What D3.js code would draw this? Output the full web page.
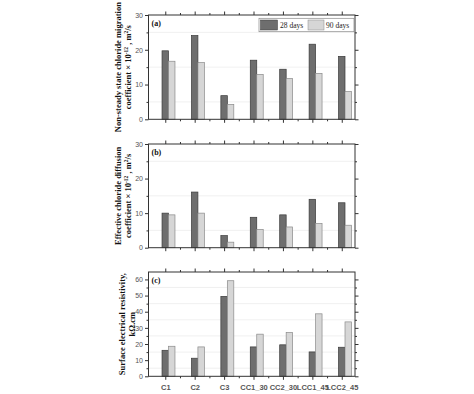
<!DOCTYPE html>
<html>
<head>
<meta charset="utf-8">
<script src="https://cdn.jsdelivr.net/npm/d3@7"></script>
<style>
  body { margin: 0; background: #fff; }
  svg { display: block; }
  .tick text { font-family: "Liberation Sans", Arial, sans-serif; fill: #555; }
  .domain { display: none; }
</style>
</head>
<body>
<svg width="474" height="394"></svg>
<script>
// categories on the x axis
const categories = ["C1", "C2", "C3", "CC1_30", "CC2_30", "LCC1_45", "LCC2_45"];

// (a) non-steady state chloride migration coefficient
const migration28 = [19.7, 24.1, 6.8, 17.0, 14.4, 21.6, 18.1];
const migration90 = [16.7, 16.3, 4.3, 12.9, 11.7, 13.2, 8.0];

// (b) effective chloride diffusion coefficient
const diffusion28 = [10.0, 16.1, 3.5, 8.8, 9.5, 14.0, 13.0];
const diffusion90 = [9.5, 10.0, 1.6, 5.3, 6.0, 7.0, 6.5];

// (c) surface electrical resistivity
const resistivity28 = [16.1, 11.2, 49.5, 18.2, 19.5, 15.1, 18.0];
const resistivity90 = [18.6, 18.2, 59.2, 26.1, 27.1, 38.7, 33.7];

const legendLabels = ["28 days", "90 days"];
const ticksA = [0, 10, 20, 30];
const ticksB = [0, 10, 20, 30];
const ticksC = [0, 10, 20, 30, 40, 50, 60];

const svg = d3.select("svg");
const dark = "#6e6e6e", darkStroke = "#3a3a3a";
const light = "#d6d6d6", lightStroke = "#8a8a8a";
const serif = "'Liberation Serif', 'Times New Roman', serif";

const left = 148.5, right = 355;
const x = d3.scaleLinear().domain([0.43, 7.45]).range([left, right]);
const bw = 0.22;
const majorX = categories.map((c, i) => i + 1);
const minorX = d3.range(1.5, 7.5, 1);

function drawPanel(cfg) {
  const y = d3.scaleLinear().domain([0, cfg.max]).range([cfg.bottom, cfg.top]);
  const g = svg.append("g");

  // faint grid at half steps
  const step = cfg.ticks[1] - cfg.ticks[0];
  const half = d3.range(step / 2, cfg.max, step);
  g.selectAll(".grid").data(half).enter().append("line")
    .attr("x1", left).attr("x2", right)
    .attr("y1", d => y(d)).attr("y2", d => y(d))
    .attr("stroke", "#ececec").attr("stroke-width", 0.8);

  // bars
  g.selectAll(".b28").data(cfg.d28).enter().append("rect")
    .attr("x", (d, i) => x(i + 1 - bw / 2))
    .attr("width", x(bw) - x(0))
    .attr("y", d => y(d))
    .attr("height", d => y(0) - y(d))
    .attr("fill", dark).attr("stroke", darkStroke).attr("stroke-width", 0.7);
  g.selectAll(".b90").data(cfg.d90).enter().append("rect")
    .attr("x", (d, i) => x(i + 1 + bw / 2))
    .attr("width", x(bw) - x(0))
    .attr("y", d => y(d))
    .attr("height", d => y(0) - y(d))
    .attr("fill", light).attr("stroke", lightStroke).attr("stroke-width", 0.7);

  // axes: left with labels, others ticks only
  const minorY = half;
  const tickStyle = s => s.selectAll("line").attr("stroke", "#333");
  g.append("g").attr("transform", `translate(${left},0)`)
    .call(d3.axisLeft(y).tickValues(cfg.ticks).tickSize(3.5).tickPadding(2))
    .call(tickStyle)
    .selectAll("text").attr("font-size", "7px");
  g.append("g").attr("transform", `translate(${left},0)`)
    .call(d3.axisLeft(y).tickValues(minorY).tickSize(2).tickFormat(""))
    .call(tickStyle);
  g.append("g").attr("transform", `translate(${right},0)`)
    .call(d3.axisRight(y).tickValues(cfg.ticks).tickSize(3.5).tickFormat(""))
    .call(tickStyle);
  g.append("g").attr("transform", `translate(${right},0)`)
    .call(d3.axisRight(y).tickValues(minorY).tickSize(2).tickFormat(""))
    .call(tickStyle);

  const bottomAxis = g.append("g").attr("transform", `translate(0,${cfg.bottom})`)
    .call(d3.axisBottom(x).tickValues(majorX).tickSize(3.5).tickPadding(5)
      .tickFormat(cfg.labels ? (d => categories[d - 1]) : ""))
    .call(tickStyle);
  bottomAxis.selectAll("text")
    .attr("font-family", serif).attr("font-weight", "bold")
    .attr("font-size", "7.5px").attr("fill", "#111");
  g.append("g").attr("transform", `translate(0,${cfg.bottom})`)
    .call(d3.axisBottom(x).tickValues(minorX).tickSize(2).tickFormat(""))
    .call(tickStyle);
  g.append("g").attr("transform", `translate(0,${cfg.top})`)
    .call(d3.axisTop(x).tickValues(majorX).tickSize(3.5).tickFormat(""))
    .call(tickStyle);
  g.append("g").attr("transform", `translate(0,${cfg.top})`)
    .call(d3.axisTop(x).tickValues(minorX).tickSize(2).tickFormat(""))
    .call(tickStyle);

  // frame
  g.append("rect")
    .attr("x", left).attr("y", cfg.top)
    .attr("width", right - left).attr("height", cfg.bottom - cfg.top)
    .attr("fill", "none").attr("stroke", "#333").attr("stroke-width", 1);

  // panel letter
  g.append("text").attr("x", left + 3).attr("y", cfg.top + 11)
    .attr("font-family", serif).attr("font-weight", "bold")
    .attr("font-size", "8px").attr("fill", "#111")
    .text(cfg.letter);

  // rotated y title, two lines
  const cy = (cfg.top + cfg.bottom) / 2;
  cfg.title.forEach((line, k) => {
    const t = g.append("text")
      .attr("transform", `translate(${cfg.titleX[k]},${cy}) rotate(-90)`)
      .attr("text-anchor", "middle")
      .attr("font-family", serif).attr("font-weight", "bold")
      .attr("font-size", "8.5px").attr("fill", "#111");
    line.forEach(part => {
      const s = t.append("tspan").text(part.t);
      if (part.sup) s.attr("dy", -3).attr("font-size", "5.5px");
      if (part.back) s.attr("dy", 3);
    });
  });
  return g;
}

const coefLine = [
  { t: "coefficient × 10" }, { t: "-12", sup: true }, { t: " , m", back: true },
  { t: "2", sup: true }, { t: "/s", back: true }
];

drawPanel({
  top: 15, bottom: 119.3, max: 30, ticks: ticksA,
  d28: migration28, d90: migration90, letter: "(a)",
  title: [[{ t: "Non-steady state chloride migration" }], coefLine],
  titleX: [120.5, 130.5]
});

drawPanel({
  top: 144, bottom: 247.7, max: 30, ticks: ticksB,
  d28: diffusion28, d90: diffusion90, letter: "(b)",
  title: [[{ t: "Effective chloride diffusion" }], coefLine],
  titleX: [121, 131]
});

drawPanel({
  top: 272, bottom: 376.3, max: 64.6, ticks: ticksC,
  d28: resistivity28, d90: resistivity90, letter: "(c)", labels: true,
  title: [[{ t: "Surface electrical resistivity," }], [{ t: "kΩ.cm" }]],
  titleX: [124.5, 134.5]
});

// legend in panel (a)
const lg = svg.append("g");
lg.append("rect").attr("x", 259).attr("y", 18.3).attr("width", 95).attr("height", 13.4)
  .attr("fill", "#fff").attr("stroke", "#888").attr("stroke-width", 0.7);
const legendItems = [
  { label: legendLabels[0], fill: dark, stroke: darkStroke, sx: 260.5, sw: 17, tx: 280 },
  { label: legendLabels[1], fill: light, stroke: lightStroke, sx: 308, sw: 16, tx: 326 }
];
legendItems.forEach(it => {
  lg.append("rect").attr("x", it.sx).attr("y", 20).attr("width", it.sw).attr("height", 10)
    .attr("fill", it.fill).attr("stroke", it.stroke).attr("stroke-width", 0.5);
  lg.append("text").attr("x", it.tx).attr("y", 27.8)
    .attr("font-family", serif).attr("font-size", "7.5px").attr("fill", "#222")
    .text(it.label);
});
</script>
</body>
</html>
